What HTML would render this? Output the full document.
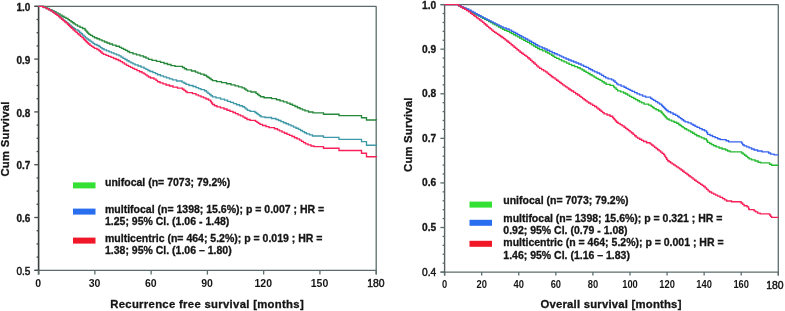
<!DOCTYPE html>
<html><head><meta charset="utf-8"><style>
html,body{margin:0;padding:0;background:#fff;width:785px;height:311px;overflow:hidden}
svg{display:block}
text{font-family:"Liberation Sans",Arial,sans-serif;font-weight:bold;fill:#151515;stroke:#151515;stroke-width:0.3px}
text.ns{stroke:none}
text.rg{font-weight:normal;stroke-width:0.45px}
</style></head><body>
<svg width="785" height="311" viewBox="0 0 785 311">
<rect width="785" height="311" fill="#fff"/>
<line x1="34.60" y1="6.30" x2="376.20" y2="6.30" stroke="#5c6c6c" stroke-width="1.3"/>
<line x1="376.20" y1="6.30" x2="376.20" y2="274.60" stroke="#5c6c6c" stroke-width="1.3"/>
<line x1="34.60" y1="270.30" x2="376.20" y2="270.30" stroke="#5c6c6c" stroke-width="1.3"/>
<line x1="38.60" y1="6.30" x2="38.60" y2="274.60" stroke="#3a3f3f" stroke-width="1.6"/>
<line x1="34.30" y1="6.30" x2="38.60" y2="6.30" stroke="#454b4b" stroke-width="1.3"/>
<text x="30.40" y="10.90" font-size="10" text-anchor="end" >1.0</text>
<line x1="36.60" y1="19.50" x2="38.60" y2="19.50" stroke="#454b4b" stroke-width="1.3"/>
<line x1="36.60" y1="32.70" x2="38.60" y2="32.70" stroke="#454b4b" stroke-width="1.3"/>
<line x1="36.60" y1="45.90" x2="38.60" y2="45.90" stroke="#454b4b" stroke-width="1.3"/>
<line x1="34.30" y1="59.10" x2="38.60" y2="59.10" stroke="#454b4b" stroke-width="1.3"/>
<text x="30.40" y="63.70" font-size="10" text-anchor="end" >0.9</text>
<line x1="36.60" y1="72.30" x2="38.60" y2="72.30" stroke="#454b4b" stroke-width="1.3"/>
<line x1="36.60" y1="85.50" x2="38.60" y2="85.50" stroke="#454b4b" stroke-width="1.3"/>
<line x1="36.60" y1="98.70" x2="38.60" y2="98.70" stroke="#454b4b" stroke-width="1.3"/>
<line x1="34.30" y1="111.90" x2="38.60" y2="111.90" stroke="#454b4b" stroke-width="1.3"/>
<text x="30.40" y="116.50" font-size="10" text-anchor="end" >0.8</text>
<line x1="36.60" y1="125.10" x2="38.60" y2="125.10" stroke="#454b4b" stroke-width="1.3"/>
<line x1="36.60" y1="138.30" x2="38.60" y2="138.30" stroke="#454b4b" stroke-width="1.3"/>
<line x1="36.60" y1="151.50" x2="38.60" y2="151.50" stroke="#454b4b" stroke-width="1.3"/>
<line x1="34.30" y1="164.70" x2="38.60" y2="164.70" stroke="#454b4b" stroke-width="1.3"/>
<text x="30.40" y="169.30" font-size="10" text-anchor="end" >0.7</text>
<line x1="36.60" y1="177.90" x2="38.60" y2="177.90" stroke="#454b4b" stroke-width="1.3"/>
<line x1="36.60" y1="191.10" x2="38.60" y2="191.10" stroke="#454b4b" stroke-width="1.3"/>
<line x1="36.60" y1="204.30" x2="38.60" y2="204.30" stroke="#454b4b" stroke-width="1.3"/>
<line x1="34.30" y1="217.50" x2="38.60" y2="217.50" stroke="#454b4b" stroke-width="1.3"/>
<text x="30.40" y="222.10" font-size="10" text-anchor="end" >0.6</text>
<line x1="36.60" y1="230.70" x2="38.60" y2="230.70" stroke="#454b4b" stroke-width="1.3"/>
<line x1="36.60" y1="243.90" x2="38.60" y2="243.90" stroke="#454b4b" stroke-width="1.3"/>
<line x1="36.60" y1="257.10" x2="38.60" y2="257.10" stroke="#454b4b" stroke-width="1.3"/>
<line x1="34.30" y1="270.30" x2="38.60" y2="270.30" stroke="#454b4b" stroke-width="1.3"/>
<text x="30.40" y="274.90" font-size="10" text-anchor="end" class="rg">0.5</text>
<line x1="38.60" y1="270.30" x2="38.60" y2="274.60" stroke="#5c6c6c" stroke-width="1.3"/>
<text x="38.20" y="286.50" font-size="10.5" text-anchor="middle" class="ns">0</text>
<line x1="94.87" y1="270.30" x2="94.87" y2="274.60" stroke="#5c6c6c" stroke-width="1.3"/>
<text x="94.47" y="286.50" font-size="10.5" text-anchor="middle" class="ns">30</text>
<line x1="151.13" y1="270.30" x2="151.13" y2="274.60" stroke="#5c6c6c" stroke-width="1.3"/>
<text x="150.73" y="286.50" font-size="10.5" text-anchor="middle" class="ns">60</text>
<line x1="207.40" y1="270.30" x2="207.40" y2="274.60" stroke="#5c6c6c" stroke-width="1.3"/>
<text x="207.00" y="286.50" font-size="10.5" text-anchor="middle" class="ns">90</text>
<line x1="263.67" y1="270.30" x2="263.67" y2="274.60" stroke="#5c6c6c" stroke-width="1.3"/>
<text x="263.27" y="286.50" font-size="10.5" text-anchor="middle" class="ns">120</text>
<line x1="319.93" y1="270.30" x2="319.93" y2="274.60" stroke="#5c6c6c" stroke-width="1.3"/>
<text x="319.53" y="286.50" font-size="10.5" text-anchor="middle" class="ns">150</text>
<line x1="376.20" y1="270.30" x2="376.20" y2="274.60" stroke="#5c6c6c" stroke-width="1.3"/>
<text x="375.90" y="286.60" font-size="10.4" text-anchor="middle" class="rg">180</text>
<path d="M38.5,6.3H43.5V7.3H47.0V8.5H49.5V9.6H52.0V10.7H54.0V11.7H56.0V12.8H58.0V13.9H60.0V15.1H62.0V16.3H64.0V17.3H66.0V18.3H68.0V19.6H69.5V20.6H71.0V21.7H72.5V22.7H74.0V23.8H75.5V24.9H77.5V26.1H80.0V27.3H82.5V28.5H85.0V30.0H86.0V31.1H87.0V32.2H88.0V33.3H89.0V34.4H90.5V35.4H92.5V36.6H94.5V37.7H97.0V38.7H99.5V39.8H102.0V40.9H104.5V42.0H107.0V43.0H109.5V44.0H112.5V45.1H116.0V46.2H119.5V47.4H121.5V48.4H123.5V49.4H125.5V50.4H127.5V51.5H129.5V52.6H133.0V53.8H136.5V54.9H140.0V55.9H143.5V57.0H146.0V58.1H148.5V59.3H152.0V60.3H156.5V61.3H160.5V62.4H164.0V63.5H167.5V64.5H171.0V65.6H175.0V66.3H182.5V67.5H184.5V68.7H186.5V69.9H191.5V71.0H195.5V72.1H198.0V73.1H200.5V74.1H204.0V75.2H206.5V76.5H208.0V77.5H209.5V78.5H211.0V79.6H212.5V80.6H216.5V81.6H221.5V82.6H226.5V83.7H231.0V84.8H235.0V85.8H238.5V86.9H242.0V87.9H244.5V89.0H246.0V90.1H247.5V91.1H251.0V92.0H256.0V93.4H257.5V94.5H259.0V95.6H260.5V96.7H264.0V97.7H271.5V98.6H276.5V99.7H280.0V100.8H283.5V101.9H287.0V103.1H290.0V104.2H292.5V105.3H295.0V106.5H297.5V107.7H300.0V108.8H302.5V109.9H305.0V110.9H308.5V112.0H313.0V112.9H323.5V114.2H339.0V115.6H361.5V117.7H366.5V120.0H376.5V120.1" fill="none" stroke="#26883a" stroke-width="1.35"/>
<path d="M38.5,6.3H43.5V7.5H46.5V8.6H49.0V9.8H51.0V10.9H53.0V12.0H54.5V13.0H56.0V14.0H57.5V15.1H59.0V16.5H60.5V17.8H62.0V19.2H63.5V20.3H65.0V21.5H66.5V22.6H68.0V23.8H69.5V25.1H71.0V26.3H72.5V27.6H74.0V28.7H75.5V29.9H78.0V31.0H79.5V32.3H81.0V33.7H82.5V35.1H84.0V36.5H85.5V37.8H87.0V39.0H88.5V40.0H90.0V41.1H91.5V42.1H93.0V43.3H94.5V44.5H97.0V45.5H99.0V46.5H100.5V47.6H102.0V48.7H104.0V49.8H106.5V50.8H109.0V51.8H111.5V52.8H114.0V53.9H116.5V54.9H119.0V55.9H121.0V57.1H123.0V58.3H125.0V59.5H127.0V60.7H129.0V61.8H131.0V62.8H133.0V63.9H135.0V64.9H138.0V66.0H141.0V67.1H144.0V68.3H146.0V69.4H148.0V70.5H150.0V71.5H153.0V72.6H155.5V73.6H157.5V74.7H160.5V75.8H163.5V76.8H166.5V77.8H169.5V78.9H172.5V79.9H176.5V81.0H182.0V82.1H184.0V83.2H186.0V84.4H189.0V85.5H193.0V86.5H196.0V87.6H198.5V88.6H201.0V89.6H204.5V90.7H206.5V92.1H208.0V93.3H209.5V94.5H211.0V95.7H212.5V96.9H216.0V97.9H220.5V99.1H224.5V100.1H227.5V101.3H230.5V102.4H233.5V103.6H236.5V104.7H239.5V105.7H242.5V106.7H244.5V107.8H246.0V109.1H247.5V110.3H250.0V111.4H255.0V112.5H256.5V113.5H258.0V114.6H259.5V115.7H261.0V116.8H265.0V117.5H271.5V118.5H276.0V119.5H278.5V120.5H281.0V121.6H283.5V122.7H286.0V123.7H288.5V124.8H291.0V125.9H293.5V127.1H296.0V128.2H298.5V129.4H300.5V130.5H302.5V131.6H304.5V132.7H306.5V133.8H309.5V134.9H312.5V136.0H323.5V137.4H339.0V139.3H361.5V141.6H366.5V145.2H376.5V145.4" fill="none" stroke="#3f98a8" stroke-width="1.35"/>
<path d="M38.5,6.3H43.0V7.4H46.0V8.6H48.5V9.7H50.5V10.9H52.5V12.1H54.0V13.1H55.5V14.2H57.0V15.2H58.5V16.5H60.0V17.9H61.5V19.2H63.0V20.5H64.5V21.7H66.0V22.9H67.5V24.2H68.5V25.2H69.5V26.2H70.5V27.2H71.5V28.2H73.0V29.7H74.5V31.1H76.0V32.4H77.5V33.7H79.0V35.0H80.5V36.3H82.0V37.6H83.5V39.0H84.5V40.0H85.5V41.0H86.5V42.0H87.5V43.0H88.5V44.0H90.0V45.3H91.5V46.4H93.0V47.4H94.5V48.4H97.0V49.5H99.0V50.7H100.5V52.0H102.0V53.3H103.5V54.4H106.0V55.4H108.5V56.4H111.0V57.4H113.5V58.5H116.0V59.5H118.5V60.5H120.5V61.6H122.5V62.9H124.5V64.1H126.5V65.3H128.5V66.4H130.5V67.4H132.5V68.4H134.5V69.4H137.0V70.6H139.5V71.7H142.0V72.8H144.0V73.9H145.5V74.9H147.0V75.9H148.5V77.0H150.5V78.0H154.0V79.1H156.0V80.3H157.5V81.7H160.0V82.8H163.0V83.9H166.0V85.0H169.5V86.0H173.0V87.1H177.5V88.1H182.5V89.2H184.0V90.4H185.5V91.5H187.0V92.6H192.5V93.6H196.0V94.8H198.5V95.8H201.0V96.8H203.5V97.9H206.0V99.0H208.5V100.1H210.5V101.5H211.5V103.0H212.5V104.5H214.5V105.7H217.0V106.8H220.5V107.9H224.0V109.0H227.0V110.2H230.0V111.3H233.0V112.5H235.5V113.6H238.0V114.8H240.5V115.9H243.0V117.1H245.0V118.2H247.0V119.5H250.0V120.3H255.5V121.4H257.0V122.4H258.5V123.4H260.0V124.4H262.5V125.5H266.0V126.6H269.0V127.6H274.5V128.7H277.5V129.8H279.5V130.8H282.0V132.1H284.5V133.2H287.0V134.3H289.5V135.4H292.0V136.5H294.5V137.7H297.0V138.8H299.5V140.1H301.5V141.3H303.5V142.6H305.5V143.8H308.0V144.9H311.0V146.0H314.0V146.6H323.5V148.2H339.0V150.5H361.5V153.2H366.5V156.7H376.5V156.8" fill="none" stroke="#f72058" stroke-width="1.35"/>
<line x1="440.60" y1="4.60" x2="778.30" y2="4.60" stroke="#5c6c6c" stroke-width="1.3"/>
<line x1="778.30" y1="4.60" x2="778.30" y2="275.60" stroke="#5c6c6c" stroke-width="1.3"/>
<line x1="440.60" y1="272.10" x2="778.30" y2="272.10" stroke="#5c6c6c" stroke-width="1.3"/>
<line x1="444.60" y1="4.60" x2="444.60" y2="275.60" stroke="#56605f" stroke-width="1.4"/>
<line x1="440.40" y1="4.60" x2="444.60" y2="4.60" stroke="#5c6c6c" stroke-width="1.3"/>
<text x="436.20" y="9.20" font-size="10.2" text-anchor="end" >1.0</text>
<line x1="442.60" y1="13.52" x2="444.60" y2="13.52" stroke="#5c6c6c" stroke-width="1.3"/>
<line x1="442.60" y1="22.43" x2="444.60" y2="22.43" stroke="#5c6c6c" stroke-width="1.3"/>
<line x1="442.60" y1="31.35" x2="444.60" y2="31.35" stroke="#5c6c6c" stroke-width="1.3"/>
<line x1="442.60" y1="40.27" x2="444.60" y2="40.27" stroke="#5c6c6c" stroke-width="1.3"/>
<line x1="440.40" y1="49.18" x2="444.60" y2="49.18" stroke="#5c6c6c" stroke-width="1.3"/>
<text x="436.20" y="52.68" font-size="10.2" text-anchor="end" >0.9</text>
<line x1="442.60" y1="58.10" x2="444.60" y2="58.10" stroke="#5c6c6c" stroke-width="1.3"/>
<line x1="442.60" y1="67.02" x2="444.60" y2="67.02" stroke="#5c6c6c" stroke-width="1.3"/>
<line x1="442.60" y1="75.93" x2="444.60" y2="75.93" stroke="#5c6c6c" stroke-width="1.3"/>
<line x1="442.60" y1="84.85" x2="444.60" y2="84.85" stroke="#5c6c6c" stroke-width="1.3"/>
<line x1="440.40" y1="93.77" x2="444.60" y2="93.77" stroke="#5c6c6c" stroke-width="1.3"/>
<text x="436.20" y="97.27" font-size="10.2" text-anchor="end" >0.8</text>
<line x1="442.60" y1="102.68" x2="444.60" y2="102.68" stroke="#5c6c6c" stroke-width="1.3"/>
<line x1="442.60" y1="111.60" x2="444.60" y2="111.60" stroke="#5c6c6c" stroke-width="1.3"/>
<line x1="442.60" y1="120.52" x2="444.60" y2="120.52" stroke="#5c6c6c" stroke-width="1.3"/>
<line x1="442.60" y1="129.43" x2="444.60" y2="129.43" stroke="#5c6c6c" stroke-width="1.3"/>
<line x1="440.40" y1="138.35" x2="444.60" y2="138.35" stroke="#5c6c6c" stroke-width="1.3"/>
<text x="436.20" y="141.85" font-size="10.2" text-anchor="end" >0.7</text>
<line x1="442.60" y1="147.27" x2="444.60" y2="147.27" stroke="#5c6c6c" stroke-width="1.3"/>
<line x1="442.60" y1="156.18" x2="444.60" y2="156.18" stroke="#5c6c6c" stroke-width="1.3"/>
<line x1="442.60" y1="165.10" x2="444.60" y2="165.10" stroke="#5c6c6c" stroke-width="1.3"/>
<line x1="442.60" y1="174.02" x2="444.60" y2="174.02" stroke="#5c6c6c" stroke-width="1.3"/>
<line x1="440.40" y1="182.93" x2="444.60" y2="182.93" stroke="#5c6c6c" stroke-width="1.3"/>
<text x="436.20" y="186.43" font-size="10.2" text-anchor="end" >0.6</text>
<line x1="442.60" y1="191.85" x2="444.60" y2="191.85" stroke="#5c6c6c" stroke-width="1.3"/>
<line x1="442.60" y1="200.77" x2="444.60" y2="200.77" stroke="#5c6c6c" stroke-width="1.3"/>
<line x1="442.60" y1="209.68" x2="444.60" y2="209.68" stroke="#5c6c6c" stroke-width="1.3"/>
<line x1="442.60" y1="218.60" x2="444.60" y2="218.60" stroke="#5c6c6c" stroke-width="1.3"/>
<line x1="440.40" y1="227.52" x2="444.60" y2="227.52" stroke="#5c6c6c" stroke-width="1.3"/>
<text x="436.20" y="231.02" font-size="10.2" text-anchor="end" >0.5</text>
<line x1="442.60" y1="236.43" x2="444.60" y2="236.43" stroke="#5c6c6c" stroke-width="1.3"/>
<line x1="442.60" y1="245.35" x2="444.60" y2="245.35" stroke="#5c6c6c" stroke-width="1.3"/>
<line x1="442.60" y1="254.27" x2="444.60" y2="254.27" stroke="#5c6c6c" stroke-width="1.3"/>
<line x1="442.60" y1="263.18" x2="444.60" y2="263.18" stroke="#5c6c6c" stroke-width="1.3"/>
<line x1="440.40" y1="272.10" x2="444.60" y2="272.10" stroke="#5c6c6c" stroke-width="1.3"/>
<text x="436.20" y="275.60" font-size="10.2" text-anchor="end" class="rg">0.4</text>
<line x1="444.60" y1="272.10" x2="444.60" y2="275.60" stroke="#5c6c6c" stroke-width="1.3"/>
<text class="ns" transform="translate(444.60,288.2) scale(0.85,1)" font-size="11" text-anchor="middle">0</text>
<line x1="481.68" y1="272.10" x2="481.68" y2="275.60" stroke="#5c6c6c" stroke-width="1.3"/>
<text class="ns" transform="translate(481.68,288.2) scale(0.85,1)" font-size="11" text-anchor="middle">20</text>
<line x1="518.76" y1="272.10" x2="518.76" y2="275.60" stroke="#5c6c6c" stroke-width="1.3"/>
<text class="ns" transform="translate(518.76,288.2) scale(0.85,1)" font-size="11" text-anchor="middle">40</text>
<line x1="555.83" y1="272.10" x2="555.83" y2="275.60" stroke="#5c6c6c" stroke-width="1.3"/>
<text class="ns" transform="translate(555.83,288.2) scale(0.85,1)" font-size="11" text-anchor="middle">60</text>
<line x1="592.91" y1="272.10" x2="592.91" y2="275.60" stroke="#5c6c6c" stroke-width="1.3"/>
<text class="ns" transform="translate(592.91,288.2) scale(0.85,1)" font-size="11" text-anchor="middle">80</text>
<line x1="629.99" y1="272.10" x2="629.99" y2="275.60" stroke="#5c6c6c" stroke-width="1.3"/>
<text class="ns" transform="translate(629.99,288.2) scale(0.85,1)" font-size="11" text-anchor="middle">100</text>
<line x1="667.07" y1="272.10" x2="667.07" y2="275.60" stroke="#5c6c6c" stroke-width="1.3"/>
<text class="ns" transform="translate(667.07,288.2) scale(0.85,1)" font-size="11" text-anchor="middle">120</text>
<line x1="704.14" y1="272.10" x2="704.14" y2="275.60" stroke="#5c6c6c" stroke-width="1.3"/>
<text class="ns" transform="translate(704.14,288.2) scale(0.85,1)" font-size="11" text-anchor="middle">140</text>
<line x1="741.22" y1="272.10" x2="741.22" y2="275.60" stroke="#5c6c6c" stroke-width="1.3"/>
<text class="ns" transform="translate(741.22,288.2) scale(0.85,1)" font-size="11" text-anchor="middle">160</text>
<line x1="778.30" y1="272.10" x2="778.30" y2="275.60" stroke="#5c6c6c" stroke-width="1.3"/>
<text x="774.90" y="288.50" font-size="10.4" text-anchor="middle" class="rg">180</text>
<path d="M444.6,4.6H458.6V5.8H460.6V6.8H462.6V7.8H464.6V8.8H466.6V9.9H468.6V11.0H470.6V12.1H472.6V13.1H474.6V14.1H476.6V15.1H478.6V16.1H480.6V17.1H482.6V18.2H484.6V19.3H486.6V20.4H488.6V21.5H490.6V22.6H492.6V23.8H494.6V24.9H496.6V25.9H498.6V27.0H500.6V28.1H502.6V29.2H504.6V30.3H507.1V31.4H509.6V32.5H511.6V33.6H513.6V34.7H515.6V35.8H517.6V36.9H519.6V38.0H521.6V39.1H523.6V40.2H525.6V41.3H527.6V42.4H529.6V43.6H531.6V44.8H533.6V46.0H535.6V47.2H537.6V48.5H539.6V49.6H542.6V50.8H545.6V52.0H547.6V53.0H549.6V54.1H551.6V55.2H553.1V56.2H554.6V57.4H556.6V58.4H559.1V59.6H561.6V60.8H564.1V61.9H566.6V63.1H569.1V64.3H571.6V65.5H574.6V66.6H577.6V67.7H580.1V68.8H582.1V70.0H584.1V71.2H586.1V72.3H588.1V73.5H590.1V74.7H592.1V75.9H594.1V77.1H596.1V78.3H598.1V79.3H600.1V80.4H602.1V81.7H604.1V83.0H606.1V84.3H610.1V85.4H613.6V86.8H614.6V87.8H616.1V89.3H617.6V90.8H620.6V91.9H623.6V93.0H625.6V94.0H627.6V95.1H629.6V96.3H631.6V97.4H633.6V98.5H635.6V99.6H637.6V100.7H639.6V101.9H641.6V102.9H644.1V104.1H648.6V105.1H651.1V106.3H652.6V107.5H654.1V108.6H656.1V109.7H658.6V111.0H661.1V112.2H662.1V113.3H663.1V114.5H664.1V115.6H665.1V116.7H666.1V117.8H667.1V119.0H669.1V120.1H671.6V121.1H674.1V122.2H676.6V123.2H678.6V124.5H680.1V125.5H681.6V126.6H683.1V127.6H684.6V128.7H686.6V129.8H688.6V130.9H690.6V132.0H692.6V133.2H694.6V134.5H696.6V135.7H699.1V136.8H701.6V137.9H704.1V139.0H706.6V140.7H707.6V142.3H709.6V143.5H711.6V144.6H713.6V145.7H716.1V146.8H719.1V148.0H722.1V149.0H725.6V150.0H727.6V151.0H730.1V151.9H741.6V153.0H743.1V154.1H744.6V155.2H746.1V156.4H747.6V157.6H749.1V158.9H751.6V159.9H755.1V161.0H758.1V162.2H760.6V162.9H769.6V164.2H771.6V165.2H778.0V165.4" fill="none" stroke="#24bb30" stroke-width="1.35"/>
<path d="M444.6,4.6H458.6V5.7H461.1V6.8H463.6V7.9H466.1V9.0H468.6V10.2H471.1V11.5H473.1V12.5H475.1V13.6H477.1V14.7H479.1V15.7H481.1V16.8H483.1V17.8H485.1V18.8H487.1V19.8H489.1V20.8H491.1V21.8H493.1V22.8H495.1V23.8H497.1V24.8H499.1V25.8H501.1V26.8H503.1V27.8H506.1V29.0H509.1V30.1H511.6V31.3H513.6V32.4H515.6V33.5H517.6V34.6H519.6V35.7H521.6V36.8H523.6V37.9H525.6V39.0H527.6V40.1H529.6V41.2H531.6V42.4H533.6V43.5H535.6V44.7H537.6V45.8H539.6V46.9H542.1V48.0H544.6V49.0H547.1V50.2H549.6V51.4H552.1V52.7H554.6V53.7H557.1V54.8H559.6V55.8H561.6V56.9H563.6V57.9H566.1V59.0H568.6V60.0H571.1V61.0H573.6V62.0H576.1V63.0H578.6V64.0H581.1V65.1H583.6V66.3H586.1V67.4H588.6V68.7H590.6V69.7H592.6V70.8H594.6V71.9H597.1V73.0H599.6V74.1H601.6V75.3H603.6V76.6H605.6V77.9H608.1V78.9H611.6V79.9H613.6V81.0H615.1V82.4H616.6V83.8H618.1V84.9H621.1V86.1H624.1V87.2H626.1V88.3H628.1V89.3H630.1V90.4H632.1V91.4H634.6V92.6H637.1V93.8H639.6V94.9H642.6V96.1H645.6V97.1H650.6V98.3H652.1V99.3H653.6V100.3H655.6V101.6H657.6V102.8H659.6V104.1H661.6V105.5H662.6V106.5H663.6V107.5H664.6V108.5H665.6V109.5H666.6V110.5H668.1V111.7H670.6V112.9H673.1V114.2H675.6V115.4H677.6V116.5H679.1V117.6H680.6V118.6H682.1V119.7H683.6V120.8H685.1V121.8H688.1V122.9H691.1V124.1H693.1V125.2H695.1V126.4H697.1V127.4H699.6V128.6H702.1V129.7H704.6V130.9H706.6V132.5H707.6V134.3H710.1V135.5H712.6V136.6H715.1V137.6H717.6V138.7H720.1V139.6H726.1V140.7H728.6V141.8H741.6V143.1H742.6V144.7H744.1V145.8H746.6V146.8H749.1V147.9H751.6V149.0H754.1V150.0H757.6V151.0H762.1V151.9H768.6V153.0H770.6V154.1H774.1V154.8H778.0V154.9" fill="none" stroke="#3463ee" stroke-width="1.35"/>
<path d="M444.6,4.6H458.6V5.9H460.6V7.0H462.6V8.2H464.6V9.3H466.6V10.6H468.6V11.9H470.6V13.3H472.1V14.4H473.6V15.5H475.1V16.6H476.6V17.8H478.1V18.9H479.6V20.0H481.1V21.1H482.6V22.4H484.1V23.7H485.6V25.0H487.1V26.3H488.6V27.6H490.1V28.8H491.6V30.1H493.1V31.3H494.6V32.3H496.1V33.4H497.6V34.4H499.1V35.5H500.6V36.5H502.1V37.5H503.6V38.6H505.1V39.8H506.6V41.0H508.1V42.2H509.6V43.4H511.1V44.7H512.6V45.9H514.1V47.2H515.6V48.4H517.1V49.7H518.6V50.9H520.1V52.2H521.6V53.2H523.1V54.3H524.6V55.3H526.1V56.4H527.6V57.7H529.1V59.0H530.6V60.3H532.1V61.7H533.6V63.0H535.1V64.4H536.6V65.8H538.1V67.1H539.6V68.4H541.6V69.6H543.6V70.8H545.6V71.9H547.1V73.1H548.6V74.3H550.1V75.5H551.6V76.7H553.1V77.8H555.1V79.1H556.6V80.2H558.1V81.3H559.6V82.5H561.1V83.6H562.6V84.8H564.1V85.9H565.6V86.9H567.1V87.9H568.6V89.0H570.1V90.0H571.6V91.0H573.6V92.4H575.6V93.7H577.6V95.0H579.6V96.3H581.1V97.4H582.6V98.6H584.1V99.7H585.6V100.8H587.1V101.9H588.6V103.0H590.6V104.1H592.6V105.3H594.6V106.5H596.6V107.8H598.1V109.0H599.6V110.2H601.1V111.4H602.6V112.6H604.1V113.8H607.1V115.0H610.1V116.2H612.6V117.5H613.6V118.7H614.6V119.8H615.6V121.0H616.6V122.2H618.1V123.4H620.1V124.6H622.1V125.9H624.1V127.2H625.6V128.4H627.1V129.5H628.6V130.6H630.1V131.8H631.6V133.0H633.1V134.4H634.6V135.7H636.1V137.1H637.6V138.1H639.6V139.2H641.6V140.4H643.6V141.5H646.6V142.7H650.1V143.8H651.6V145.0H653.1V146.1H654.6V147.3H656.1V148.5H657.6V149.7H659.1V150.9H660.6V152.1H662.1V153.3H663.6V154.5H664.6V156.1H665.6V157.6H666.6V159.2H667.6V160.7H669.1V161.7H670.6V162.8H672.1V163.8H673.6V164.9H675.1V165.9H676.6V166.9H678.1V167.9H679.6V168.9H681.1V170.0H682.6V171.2H684.1V172.3H685.6V173.4H687.1V174.5H688.6V175.7H690.1V176.8H691.6V177.9H693.1V179.1H694.6V180.2H696.1V181.3H697.6V182.3H699.1V183.3H700.6V184.3H702.1V185.4H703.6V186.5H705.1V187.9H706.6V189.4H708.1V190.8H709.6V192.0H711.6V193.1H713.6V194.1H715.6V195.1H717.6V196.1H720.1V197.3H722.6V198.6H724.6V199.8H726.6V201.0H731.6V201.7H741.1V203.0H742.6V204.4H744.1V205.7H747.1V206.9H748.6V208.7H749.1V209.6H754.1V210.8H755.6V211.9H757.6V213.1H760.1V213.8H769.6V215.0H770.6V216.3H771.6V217.4H778.0V217.6" fill="none" stroke="#f72058" stroke-width="1.35"/>
<text x="110.20" y="308.30" font-size="11.3" text-anchor="start" textLength="193.5" lengthAdjust="spacing">Recurrence free survival [months]</text>
<text x="540.40" y="308.10" font-size="11.3" text-anchor="start" textLength="141" lengthAdjust="spacing">Overall survival [months]</text>
<text transform="translate(8.9,176.6) rotate(-90)" font-size="11.3" textLength="75.1" lengthAdjust="spacing">Cum Survival</text>
<text transform="translate(411.8,171.9) rotate(-90)" font-size="11.3" textLength="74.3" lengthAdjust="spacing">Cum Survival</text>
<rect x="73" y="182.4" width="22.5" height="6" fill="#33e033"/>
<text x="105.00" y="185.70" font-size="10.5" text-anchor="start" >unifocal (n= 7073; 79.2%)</text>
<rect x="73" y="208.6" width="22.5" height="6" fill="#2a6ef0"/>
<text x="105.00" y="212.60" font-size="10.5" text-anchor="start" >multifocal (n= 1398; 15.6%); p = 0.007 ; HR =</text>
<text x="105.00" y="225.00" font-size="10.5" text-anchor="start" >1.25; 95% Cl. (1.06 - 1.48)</text>
<rect x="73" y="237.6" width="22.5" height="6" fill="#f01828"/>
<text x="105.00" y="242.00" font-size="10.5" text-anchor="start" >multicentric (n= 464; 5.2%); p = 0.019 ; HR =</text>
<text x="105.00" y="254.40" font-size="10.5" text-anchor="start" >1.38; 95% Cl. (1.06 – 1.80)</text>
<rect x="469.5" y="201.6" width="22.5" height="6" fill="#33e033"/>
<text x="503.30" y="204.10" font-size="10.5" text-anchor="start" >unifocal (n= 7073; 79.2%)</text>
<rect x="469.5" y="219.8" width="22.5" height="6" fill="#2a6ef0"/>
<text x="503.30" y="221.60" font-size="10.5" text-anchor="start" >multifocal (n= 1398; 15.6%); p = 0.321 ; HR =</text>
<text x="503.30" y="234.00" font-size="10.5" text-anchor="start" >0.92; 95% Cl. (0.79 - 1.08)</text>
<rect x="469.5" y="240.8" width="22.5" height="6" fill="#f01828"/>
<text x="503.30" y="246.40" font-size="10.5" text-anchor="start" >multicentric (n = 464; 5.2%); p = 0.001 ; HR =</text>
<text x="503.30" y="258.80" font-size="10.5" text-anchor="start" >1.46; 95% Cl. (1.16 – 1.83)</text>
</svg>
</body></html>
